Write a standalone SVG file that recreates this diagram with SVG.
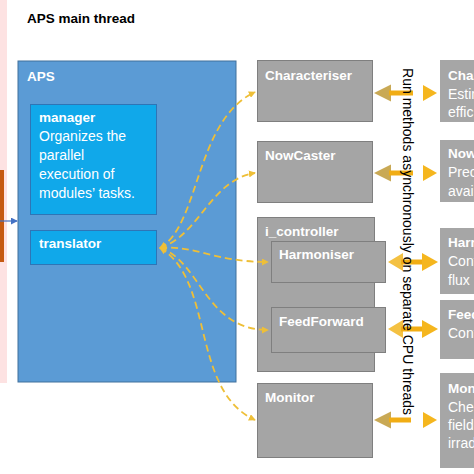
<svg xmlns="http://www.w3.org/2000/svg" width="474" height="474" viewBox="0 0 474 474">
<defs>
<style>
.t{font-family:"Liberation Sans",Arial,sans-serif;font-size:14px;fill:#fff}
.b{font-family:"Liberation Sans",Arial,sans-serif;font-size:13.5px;font-weight:bold;fill:#fff}
.gray{fill:#a5a5a5;stroke:#7f7f7f;stroke-width:1}
.rgray{fill:#a6a6a6}
.dash{fill:none;stroke:#eebf38;stroke-width:1.8;stroke-dasharray:7 4;marker-start:url(#ya);marker-end:url(#ya)}
.lh{fill:#c9a955}
.lh2{fill:#f4c142}
.sh{fill:#f1ad14}
.rh{fill:#f5b61e}
</style>
<marker id="ya" viewBox="0 0 8 8" refX="7" refY="4" markerWidth="7" markerHeight="7" markerUnits="userSpaceOnUse" orient="auto-start-reverse">
<path d="M0,0 L8,4 L0,8 z" fill="#eebf38"/>
</marker>
<marker id="ba" viewBox="0 0 8 8" refX="7" refY="4" markerWidth="7" markerHeight="7" markerUnits="userSpaceOnUse" orient="auto">
<path d="M0,0 L8,4 L0,8 z" fill="#4472c4"/>
</marker>
</defs>
<rect width="474" height="474" fill="#fff"/>
<rect x="0" y="0" width="7" height="383" fill="#fde2e2"/>
<rect x="0" y="170" width="4" height="92" fill="#c55a11"/>
<text x="27" y="23" class="b" style="fill:#000">APS main thread</text>

<g id="APS">
<rect x="18" y="61" width="218" height="321" fill="#5b9bd5" stroke="#41719c" stroke-width="1"/>
<text x="27" y="81" class="b">APS</text>
</g>
<g id="manager">
<rect x="30.5" y="104.5" width="126" height="110" fill="#10a8ea" stroke="#2e75b6" stroke-width="1"/>
<text x="39" y="122" class="b">manager</text>
<text x="39" y="141" class="t">Organizes the</text>
<text x="39" y="160" class="t">parallel</text>
<text x="39" y="179" class="t">execution of</text>
<text x="39" y="198" class="t">modules’ tasks.</text>
</g>
<g id="translator">
<rect x="30.5" y="230.5" width="126" height="34" fill="#10a8ea" stroke="#2e75b6" stroke-width="1"/>
<text x="39" y="248" class="b">translator</text>
</g>

<g id="Characteriser">
<rect x="257.5" y="60.5" width="115" height="61" class="gray"/>
<text x="265" y="80" class="b">Characteriser</text>
</g>
<g id="NowCaster">
<rect x="257.5" y="141.5" width="115" height="61" class="gray"/>
<text x="265" y="160" class="b">NowCaster</text>
</g>
<g id="i_controller">
<rect x="257.5" y="217.5" width="117" height="154" class="gray"/>
<text x="265" y="236" class="b">i_controller</text>
</g>
<g id="Harmoniser">
<rect x="271.5" y="241.5" width="114" height="41" class="gray"/>
<text x="279" y="259" class="b">Harmoniser</text>
</g>
<g id="FeedForward">
<rect x="271.5" y="307.5" width="114" height="45" class="gray"/>
<text x="279" y="326" class="b">FeedForward</text>
</g>
<g id="Monitor">
<rect x="257.5" y="383.5" width="115" height="74" class="gray"/>
<text x="265" y="402" class="b">Monitor</text>
</g>

<g id="desc-char">
<rect x="440" y="60" width="40" height="62" class="rgray"/>
<text x="448" y="80" class="b">Char</text>
<text x="448" y="99" class="t">Estim</text>
<text x="448" y="117" class="t">effic</text>
</g>
<g id="desc-now">
<rect x="440" y="140" width="40" height="62" class="rgray"/>
<text x="448" y="158" class="b">Now</text>
<text x="448" y="177" class="t">Prec</text>
<text x="448" y="196" class="t">avai</text>
</g>
<g id="desc-harm">
<rect x="440" y="228" width="40" height="66" class="rgray"/>
<text x="448" y="247" class="b">Harm</text>
<text x="448" y="266" class="t">Cont</text>
<text x="448" y="285" class="t">flux</text>
</g>
<g id="desc-feed">
<rect x="440" y="300" width="40" height="59" class="rgray"/>
<text x="448" y="319" class="b">Feed</text>
<text x="448" y="338" class="t">Cont</text>
</g>
<g id="desc-mon">
<rect x="440" y="373" width="40" height="95" class="rgray"/>
<text x="448" y="393" class="b">Mon</text>
<text x="448" y="412" class="t">Chec</text>
<text x="448" y="430" class="t">field</text>
<text x="448" y="448" class="t">irrad</text>
</g>

<g id="connectors">
<line x1="0" y1="221" x2="17" y2="221" stroke="#4472c4" stroke-width="1.2" marker-end="url(#ba)"/>
<path class="dash" d="M160,248 C200,225 195,120 255,92"/>
<path class="dash" d="M160,248 C200,235 210,180 255,173"/>
<path class="dash" d="M160,248 C195,245 215,262 268,262"/>
<path class="dash" d="M160,248 C200,260 205,330 268,330"/>
<path class="dash" d="M160,248 C215,280 190,390 255,420"/>

<polygon class="lh" points="374,93 391,84.5 391,101.5"/>
<rect class="sh" x="389" y="90.5" width="24" height="5"/>
<polygon class="rh" points="423,85 437,93 423,101"/>

<polygon class="lh" points="374,173 391,164.5 391,181.5"/>
<rect class="sh" x="389" y="170.5" width="24" height="5"/>
<polygon class="rh" points="423,165 437,173 423,181"/>

<polygon class="lh2" points="388,262 403,253 403,271"/>
<rect class="sh" x="401" y="259.5" width="23" height="5"/>
<polygon class="rh" points="422,253 438,262 422,271"/>

<polygon class="lh2" points="388,329 403,320 403,338"/>
<rect class="sh" x="401" y="326.5" width="23" height="5"/>
<polygon class="rh" points="422,320 438,329 422,338"/>

<polygon class="lh" points="374,420 391,411.5 391,428.5"/>
<rect class="sh" x="389" y="417.5" width="22" height="5"/>
<polygon class="rh" points="423,412 437,420 423,428"/>
</g>

<text transform="translate(403,68) rotate(90)" font-family="Liberation Sans, Arial, sans-serif" font-size="14" fill="#000" textLength="347" lengthAdjust="spacing">Run methods asynchronously on separate CPU threads</text>
</svg>
